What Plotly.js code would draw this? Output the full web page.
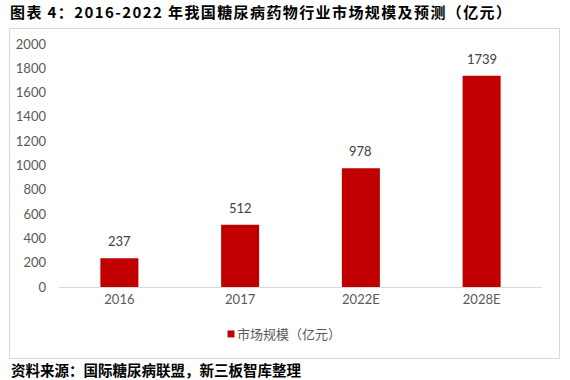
<!DOCTYPE html>
<html>
<head>
<meta charset="utf-8">
<script src="https://cdn.plot.ly/plotly-3.0.1.min.js"></script>
<style>
html,body{margin:0;padding:0;background:#fff;}
#chart{width:570px;height:380px;}
</style>
</head>
<body>
<div id="chart"></div>
<script>
var categories = ["2016", "2017", "2022E", "2028E"];
var values = [237, 512, 978, 1739];
var seriesName = "市场规模（亿元）";
var titleText = "图表 4：2016-2022 年我国糖尿病药物行业市场规模及预测（亿元）";
var sourceText = "资料来源：国际糖尿病联盟，新三板智库整理";
var yTicks = [0, 200, 400, 600, 800, 1000, 1200, 1400, 1600, 1800, 2000];

var L = 59, R = 542, T = 44, B = 287;
var W = R - L, H = B - T;
function px(x){ return (x - L) / W; }
function py(y){ return (B - y) / H; }

var numFont = "Lato, 'Open Sans', sans-serif";

var trace = {
  type: "bar",
  x: categories,
  y: values,
  name: seriesName,
  marker: {color: "#c00000"},
  hoverinfo: "none"
};

var labelAnns = categories.map(function(c, i){
  return {
    x: i, y: values[i], xref: "x", yref: "y",
    text: String(values[i]),
    showarrow: false,
    yanchor: "bottom", xanchor: "center",
    yshift: 7,
    font: {family: numFont, size: 13, color: "#404040"}
  };
});

var layout = {
  width: 570, height: 380,
  margin: {l: L, r: 570 - R, t: T, b: 380 - B, pad: 0},
  paper_bgcolor: "#ffffff",
  plot_bgcolor: "#ffffff",
  bargap: 0.685,
  showlegend: true,
  title: {
    text: "<b>" + titleText + "</b>",
    xref: "container", yref: "container",
    x: 10 / 570, xanchor: "left",
    y: 1 - 13 / 380, yanchor: "middle",
    font: {family: "'Noto Sans CJK SC', sans-serif", size: 15, color: "#000000"}
  },
  legend: {
    orientation: "h",
    x: px(272), xanchor: "center",
    y: py(334), yanchor: "middle",
    font: {family: "'Noto Sans CJK SC', sans-serif", size: 13, color: "#595959"},
    itemwidth: 30
  },
  xaxis: {
    type: "category",
    range: [-0.5, 3.5],
    showgrid: false,
    showline: true,
    linecolor: "#d9d9d9",
    linewidth: 1,
    ticks: "",
    tickfont: {family: numFont, size: 13, color: "#595959"},
    zeroline: false,
    fixedrange: true
  },
  yaxis: {
    range: [0, 2000],
    tickvals: yTicks,
    ticktext: yTicks.map(String),
    showgrid: false,
    showline: false,
    zeroline: false,
    ticks: "",
    ticklabelstandoff: 12,
    tickfont: {family: numFont, size: 13, color: "#595959"},
    fixedrange: true
  },
  shapes: [{
    type: "rect", xref: "paper", yref: "paper",
    x0: px(9.5), x1: px(559.5), y0: py(358.5), y1: py(28.5),
    line: {color: "#d9d9d9", width: 1},
    fillcolor: "rgba(0,0,0,0)",
    layer: "below"
  }],
  annotations: [
    {
      text: "<b>" + sourceText + "</b>",
      xref: "paper", yref: "paper",
      x: px(10), y: py(369), xanchor: "left", yanchor: "middle",
      showarrow: false,
      borderpad: 0,
      font: {family: "'Noto Sans CJK SC', sans-serif", size: 14.5, color: "#000000"}
    }
  ].concat(labelAnns)
};

Plotly.newPlot("chart", [trace], layout, {displayModeBar: false, staticPlot: true}).then(function(){
  var gt = document.querySelector(".gtitle");
  if (gt) gt.style.letterSpacing = "1.4px";
  var pts = document.querySelectorAll(".legendpoints path");
  pts.forEach(function(p){
    p.setAttribute("transform", "translate(34,0) scale(0.58)");
  });
});
</script>
</body>
</html>
